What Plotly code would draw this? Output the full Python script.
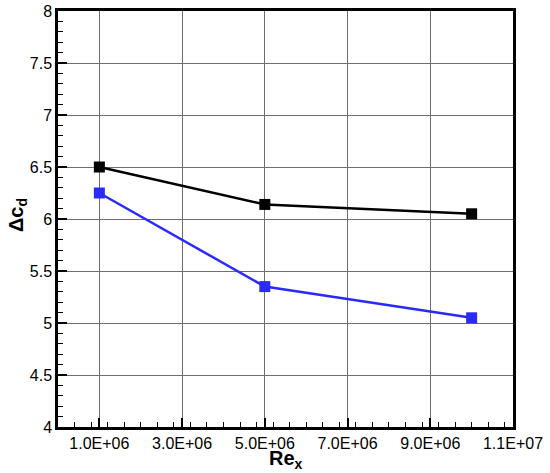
import plotly.graph_objects as go

re_x = [1.0e6, 5.0e6, 1.0e7]
dcd_black = [6.50, 6.14, 6.05]
dcd_blue = [6.25, 5.35, 5.05]

x_tickvals = [1e6, 3e6, 5e6, 7e6, 9e6, 1.1e7]
x_ticktext = ["1.0E+06", "3.0E+06", "5.0E+06", "7.0E+06", "9.0E+06", "1.1E+07"]
y_tickvals = [4, 4.5, 5, 5.5, 6, 6.5, 7, 7.5, 8]
y_ticktext = ["4", "4.5", "5", "5.5", "6", "6.5", "7", "7.5", "8"]
x_title = "<b>Re<sub>x</sub></b>"
y_title = "<b>Δc<sub>d</sub></b>"

fig = go.Figure()
fig.add_trace(go.Scatter(x=re_x, y=dcd_black, mode="lines+markers",
                         line=dict(color="black", width=2.5),
                         marker=dict(symbol="square", size=11, color="black")))
fig.add_trace(go.Scatter(x=re_x, y=dcd_blue, mode="lines+markers",
                         line=dict(color="#2a2aff", width=2.5),
                         marker=dict(symbol="square", size=11, color="#2a2aff")))

font = dict(family="Arial, Helvetica, sans-serif", size=16, color="black")
fig.update_layout(
    width=550, height=473,
    margin=dict(l=58, r=37, t=11, b=46, autoexpand=False),
    paper_bgcolor="white", plot_bgcolor="white",
    showlegend=False, font=font,
    annotations=[
        dict(text=x_title, xref="paper", yref="paper", x=0.5, y=0,
             xanchor="center", yanchor="top", yshift=-18, showarrow=False,
             font=dict(size=20)),
        dict(text=y_title, xref="paper", yref="paper", x=0, y=0.5,
             xanchor="center", yanchor="middle", xshift=-41, yshift=4,
             textangle=-90, showarrow=False, font=dict(size=20)),
    ],
)
fig.update_xaxes(
    range=[0, 1.1e7], tickvals=x_tickvals, ticktext=x_ticktext,
    showline=True, linecolor="black", linewidth=2.5, mirror=True,
    ticks="inside", ticklen=9, tickwidth=2, tickcolor="black",
    showgrid=True, gridcolor="#6e6e6e", gridwidth=1, zeroline=False,
    minor=dict(dtick=4e5, tick0=0, ticks="inside", ticklen=5, tickwidth=1,
               tickcolor="black", showgrid=False),
)
fig.update_yaxes(
    range=[4, 8], tickvals=y_tickvals, ticktext=y_ticktext,
    showline=True, linecolor="black", linewidth=2.5, mirror=True,
    ticks="inside", ticklen=9, tickwidth=2, tickcolor="black",
    showgrid=True, gridcolor="#6e6e6e", gridwidth=1, zeroline=False,
    minor=dict(dtick=0.1, tick0=4, ticks="inside", ticklen=5, tickwidth=1,
               tickcolor="black", showgrid=False),
)
fig.write_html("out.html", config={"displayModeBar": False},
               post_script="document.body.style.margin='0';")
